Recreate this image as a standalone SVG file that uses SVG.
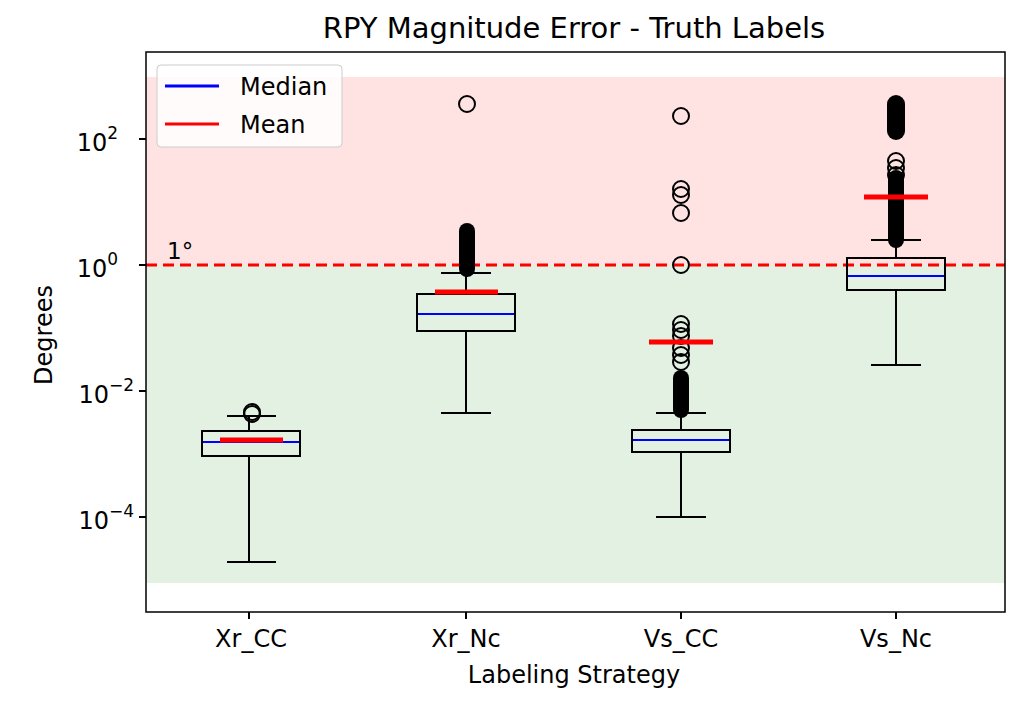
<svg xmlns="http://www.w3.org/2000/svg" width="1023" height="704" viewBox="0 0 1023 704">
<style>
text{font-family:"DejaVu Sans",sans-serif;fill:#000}
.t{font-size:24px}
.b{fill:none;stroke:#000;stroke-width:2}
.w{stroke:#000;stroke-width:2}
.med{stroke:#0000ff;stroke-width:2}
.mean{stroke:#ff0000;stroke-width:5}
.o{fill:none;stroke:#000;stroke-width:2}
</style>
<defs><circle id="c" r="8" class="o"/></defs>
<rect width="1023" height="704" fill="#fff"/>
<text x="574" y="38" font-size="29" text-anchor="middle">RPY Magnitude Error - Truth Labels</text>
<rect x="146" y="77" width="859" height="188" fill="#ffe3e3"/>
<rect x="146" y="265" width="859" height="318" fill="#e3f1e3"/>
<line x1="146" y1="265" x2="1005" y2="265" stroke="#ff0000" stroke-width="3" stroke-dasharray="11,6"/>
<text x="167" y="259" font-size="23">1°</text>
<g id="xr_cc">
<line x1="249" y1="416" x2="249" y2="431" class="w"/><line x1="249" y1="456" x2="249" y2="562" class="w"/>
<line x1="227" y1="416" x2="276" y2="416" class="w"/><line x1="227" y1="562" x2="276" y2="562" class="w"/>
<rect x="202" y="431" width="98" height="25" class="b"/>
<line x1="203" y1="442" x2="299" y2="442" class="med"/>
<line x1="220" y1="440" x2="283" y2="440" class="mean"/>
<use href="#c" x="252" y="412"/><use href="#c" x="252" y="414"/>
</g>
<g id="xr_nc">
<line x1="466" y1="273" x2="466" y2="294" class="w"/><line x1="466" y1="331" x2="466" y2="413" class="w"/>
<line x1="441" y1="273" x2="491" y2="273" class="w"/><line x1="441" y1="413" x2="491" y2="413" class="w"/>
<rect x="417" y="294" width="98" height="37" class="b"/>
<line x1="418" y1="314" x2="514" y2="314" class="med"/>
<line x1="435" y1="292" x2="498" y2="292" class="mean"/>
<rect x="459" y="223" width="16" height="54" rx="8" fill="#000"/>
<use href="#c" x="467" y="104"/>
</g>
<g id="vs_cc">
<line x1="681" y1="413" x2="681" y2="430" class="w"/><line x1="681" y1="452" x2="681" y2="517" class="w"/>
<line x1="656" y1="413" x2="706" y2="413" class="w"/><line x1="656" y1="517" x2="706" y2="517" class="w"/>
<rect x="632" y="430" width="98" height="22" class="b"/>
<line x1="633" y1="440" x2="729" y2="440" class="med"/>
<rect x="673" y="370" width="16" height="48" rx="8" fill="#000"/>
<use href="#c" x="681" y="362"/><use href="#c" x="681" y="355"/><use href="#c" x="681" y="348"/>
<use href="#c" x="681" y="336"/><use href="#c" x="681" y="330"/><use href="#c" x="681" y="324"/>
<use href="#c" x="681" y="265"/><use href="#c" x="681" y="213"/><use href="#c" x="681" y="195"/><use href="#c" x="681" y="189"/><use href="#c" x="681" y="116"/>
<line x1="649" y1="342" x2="713" y2="342" class="mean"/>
</g>
<g id="vs_nc">
<line x1="896" y1="240" x2="896" y2="258" class="w"/><line x1="896" y1="290" x2="896" y2="365" class="w"/>
<line x1="871" y1="240" x2="921" y2="240" class="w"/><line x1="871" y1="365" x2="921" y2="365" class="w"/>
<rect x="847" y="258" width="98" height="32" class="b"/>
<line x1="848" y1="276" x2="944" y2="276" class="med"/>
<rect x="888" y="170" width="16" height="78" rx="8" fill="#000"/>
<use href="#c" x="896" y="161"/><use href="#c" x="896" y="168"/><use href="#c" x="896" y="175"/>
<rect x="887" y="95" width="18" height="45" rx="9" fill="#000"/>
<line x1="864" y1="197" x2="928" y2="197" class="mean"/>
</g>
<rect x="146" y="52" width="859" height="560" fill="none" stroke="#000" stroke-width="1.5"/>
<g class="w">
<line x1="139" y1="139" x2="146" y2="139"/><line x1="139" y1="265" x2="146" y2="265"/>
<line x1="139" y1="391" x2="146" y2="391"/><line x1="139" y1="517" x2="146" y2="517"/>
<line x1="249" y1="612" x2="249" y2="619"/><line x1="466" y1="612" x2="466" y2="619"/>
<line x1="681" y1="612" x2="681" y2="619"/><line x1="896" y1="612" x2="896" y2="619"/>
</g>
<g class="t" text-anchor="end">
<text x="118" y="151">10<tspan dy="-12" font-size="17">2</tspan></text>
<text x="118" y="277">10<tspan dy="-12" font-size="17">0</tspan></text>
<text x="134" y="403">10<tspan dy="-12" font-size="17">−2</tspan></text>
<text x="134" y="529">10<tspan dy="-12" font-size="17">−4</tspan></text>
</g>
<g class="t" text-anchor="middle">
<text x="251" y="647">Xr_CC</text><text x="466" y="647">Xr_Nc</text>
<text x="681" y="647">Vs_CC</text><text x="896" y="647">Vs_Nc</text>
<text x="574" y="683">Labeling Strategy</text>
<text transform="translate(52,335) rotate(-90)">Degrees</text>
</g>
<g id="legend">
<rect x="157" y="65" width="185" height="82" rx="4" fill="#fff" fill-opacity="0.85" stroke="#ccc"/>
<line x1="165" y1="86" x2="219" y2="86" stroke="#0000ff" stroke-width="3"/>
<line x1="165" y1="124" x2="219" y2="124" stroke="#ff0000" stroke-width="3"/>
<text x="240" y="95" font-size="24">Median</text>
<text x="240" y="133" font-size="24">Mean</text>
</g>
</svg>
